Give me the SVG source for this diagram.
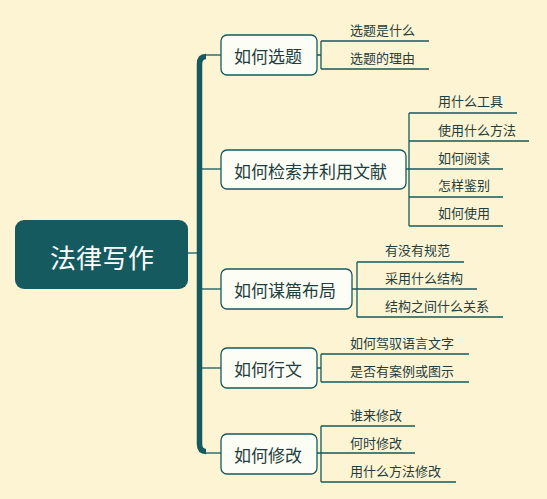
<svg xmlns="http://www.w3.org/2000/svg" width="547" height="499" viewBox="0 0 547 499">
<style>
.bg{fill:#FDF4D3}
.root{fill:#145A5E}
.rt{font-family:"Noto Sans CJK SC","Noto Sans",sans-serif;font-size:26px;fill:#FFFFFF;text-anchor:middle;dominant-baseline:central}
.b1{fill:#FCFDF5;stroke:#145A5E;stroke-width:1.3}
.t1{font-family:"Noto Sans CJK SC","Noto Sans",sans-serif;font-size:17px;fill:#1E3E40;dominant-baseline:central}
.t2{font-family:"Noto Sans CJK SC","Noto Sans",sans-serif;font-size:13px;fill:#1E3E40;dominant-baseline:central}
.ln{fill:none;stroke:#145A5E;stroke-width:1.3}
.trunk{fill:none;stroke:#145A5E;stroke-width:5.5}
</style>
<rect class="bg" x="0" y="0" width="547" height="499"/>
<g id="connectors">
<path class="trunk" d="M206,56.5 Q199.5,56.5 199.5,64 L199.5,444 Q199.5,451.5 206,451.5"/>
<path class="ln" d="M188,253 L198,253"/>
<path class="ln" d="M205,55 L221,55"/>
<path class="ln" d="M200,169 L221,169"/>
<path class="ln" d="M200,289 L221,289"/>
<path class="ln" d="M200,368 L221,368"/>
<path class="ln" d="M205,453 L221,453"/>
<path class="ln" d="M317,55 L321,55 M321,41 L321,69 M321,41 L429,41 M321,69 L429,69"/>
<path class="ln" d="M406,169 L409,169 M409,113 L409,226 M409,113 L517,113 M409,141 L529,141 M409,169 L503,169 M409,197 L503,197 M409,226 L503,226"/>
<path class="ln" d="M352,289 L357,289 M357,262 L357,317 M357,262 L464,262 M357,289 L477,289 M357,317 L503,317"/>
<path class="ln" d="M317,368 L321,368 M321,354 L321,382 M321,354 L469,354 M321,382 L469,382"/>
<path class="ln" d="M317,453 L321,453 M321,426 L321,482 M321,426 L415,426 M321,453 L415,453 M321,482 L456,482"/>
</g>
<g id="root">
<rect class="root" x="15" y="220" width="173" height="69" rx="9"/>
<text class="rt" x="102" y="256">法律写作</text>
</g>
<g id="n1">
<rect class="b1" x="221" y="35" width="96" height="40" rx="6"/>
<text class="t1" x="234" y="55">如何选题</text>
</g>
<g id="n2">
<rect class="b1" x="221" y="150" width="185" height="39" rx="6"/>
<text class="t1" x="234" y="170">如何检索并利用文献</text>
</g>
<g id="n3">
<rect class="b1" x="221" y="269" width="131" height="40" rx="6"/>
<text class="t1" x="234" y="289">如何谋篇布局</text>
</g>
<g id="n4">
<rect class="b1" x="221" y="348" width="96" height="40" rx="6"/>
<text class="t1" x="234" y="368">如何行文</text>
</g>
<g id="n5">
<rect class="b1" x="221" y="434" width="96" height="40" rx="6"/>
<text class="t1" x="234" y="454">如何修改</text>
</g>
<g id="n1c">
<text class="t2" x="350" y="29">选题是什么</text>
<text class="t2" x="350" y="57">选题的理由</text>
</g>
<g id="n2c">
<text class="t2" x="438" y="100">用什么工具</text>
<text class="t2" x="438" y="129">使用什么方法</text>
<text class="t2" x="438" y="157">如何阅读</text>
<text class="t2" x="438" y="184">怎样鉴别</text>
<text class="t2" x="438" y="212">如何使用</text>
</g>
<g id="n3c">
<text class="t2" x="385" y="249">有没有规范</text>
<text class="t2" x="385" y="277">采用什么结构</text>
<text class="t2" x="385" y="305">结构之间什么关系</text>
</g>
<g id="n4c">
<text class="t2" x="350" y="342">如何驾驭语言文字</text>
<text class="t2" x="350" y="370">是否有案例或图示</text>
</g>
<g id="n5c">
<text class="t2" x="350" y="414">谁来修改</text>
<text class="t2" x="350" y="442">何时修改</text>
<text class="t2" x="350" y="470">用什么方法修改</text>
</g>
</svg>
